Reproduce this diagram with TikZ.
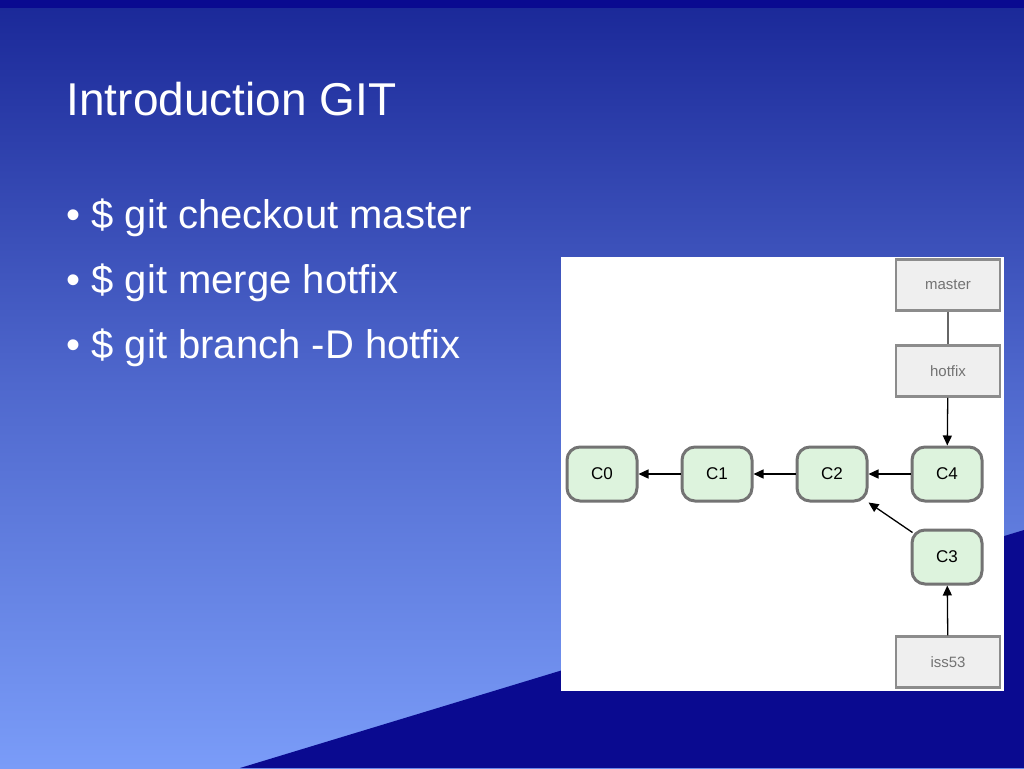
\documentclass[tikz,border=0pt]{standalone}
\usepackage{fontspec}
\setmainfont{Liberation Sans}
\usetikzlibrary{arrows.meta}
\definecolor{topb}{HTML}{1A2898}
\definecolor{botb}{HTML}{7A9CF8}
\definecolor{navy}{HTML}{0A0A90}
\definecolor{cfill}{HTML}{DDF3DD}
\definecolor{bfill}{HTML}{EFEFEF}
\tikzset{
 commit/.style={draw=black!55,fill=cfill,line width=3pt,rounded corners=13pt,minimum width=70pt,minimum height=54pt,font=\fontsize{17}{20}\selectfont},
 ref/.style={draw=black!45,fill=bfill,line width=2.5pt,minimum width=104pt,minimum height=51pt,text=black!55,font=\fontsize{15}{18}\selectfont},
 arr/.style={-{Triangle[length=10pt,width=9pt]},line width=1.3pt},
 bul/.style={anchor=base west,font=\fontsize{40}{48}\selectfont,text=white}
}
\begin{document}
\begin{tikzpicture}[x=1pt,y=-1pt]
\useasboundingbox (0,0) rectangle (1024,768);
\shade[top color=topb,bottom color=botb,middle color=botb!55!topb] (0,0) rectangle (1024,768);
\fill[navy] (0,0) rectangle (1024,8);
\fill[navy] (240,768) -- (1024,530) -- (1024,768) -- cycle;
\node[anchor=base west,font=\fontsize{46}{54}\selectfont,text=white] (title) at (63,115) {Introduction GIT};
\node[bul] (b1) at (63,228) {\textbullet\ \$ git checkout master};
\node[bul] (b2) at (63,293) {\textbullet\ \$ git merge hotfix};
\node[bul] (b3) at (63,358) {\textbullet\ \$ git branch -D hotfix};
\fill[white] (561,257) rectangle (1004,691);
\node[commit] (c0) at (602,474) {C0};
\node[commit] (c1) at (717,474) {C1};
\node[commit] (c2) at (832,474) {C2};
\node[commit] (c4) at (947,474) {C4};
\node[commit] (c3) at (947,557) {C3};
\node[ref] (master) at (948,285) {master};
\node[ref] (hotfix) at (948,371) {hotfix};
\node[ref] (iss) at (948,662) {iss53};
\draw[line width=1.3pt,black!60] (master) -- (hotfix);
\draw[arr] (hotfix) -- (c4);
\draw[arr] (c4) -- (c2);
\draw[arr] (c2) -- (c1);
\draw[arr] (c1) -- (c0);
\draw[arr] (c3.north west) ++(2,4) -- (c2.south east);
\draw[arr] (iss) -- (c3);
\end{tikzpicture}
\end{document}
